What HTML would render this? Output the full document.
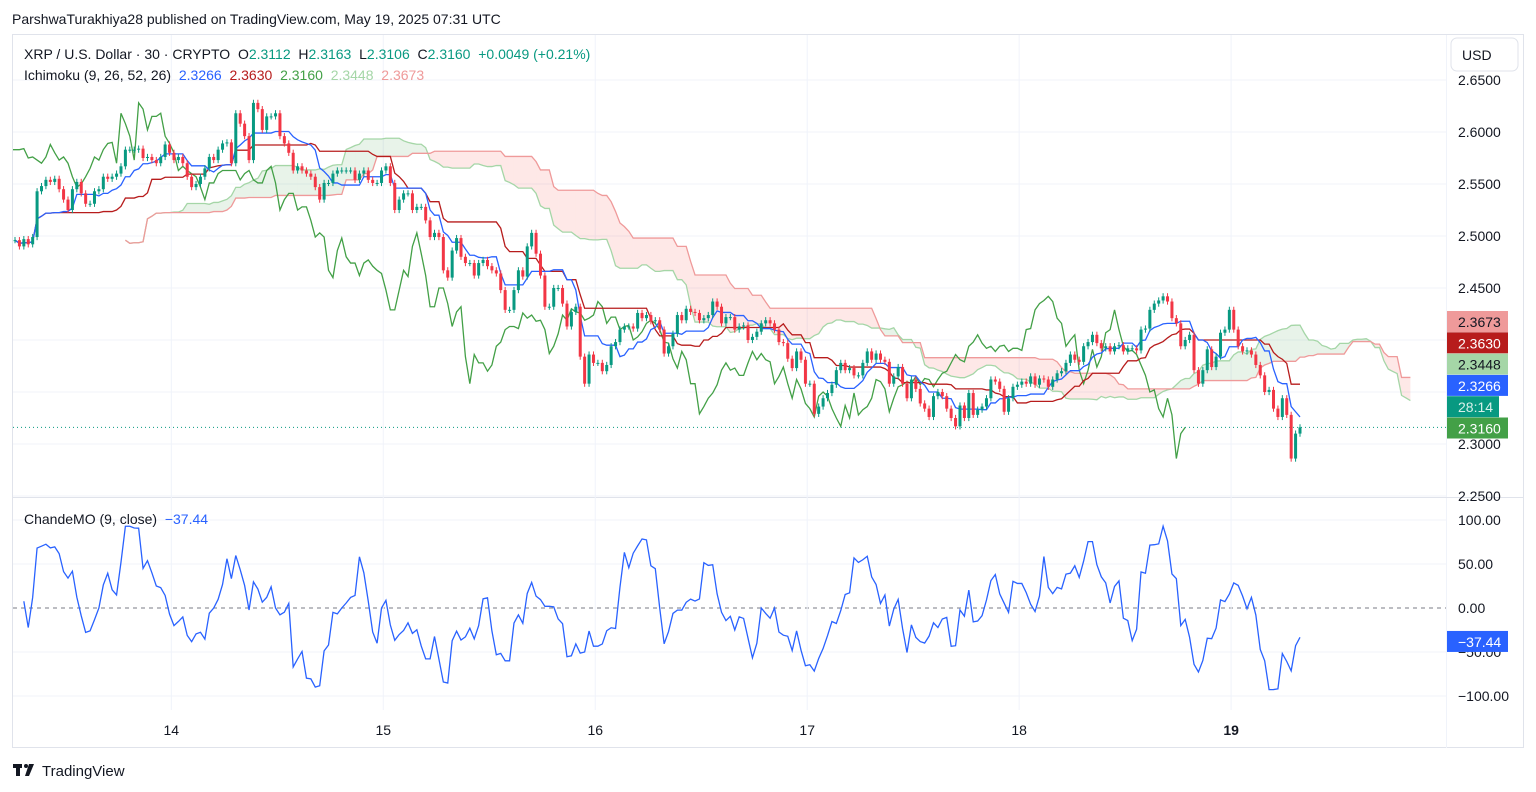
<!DOCTYPE html>
<html><head><meta charset="utf-8"><style>
html,body{margin:0;padding:0;background:#fff;width:1536px;height:792px;overflow:hidden}
svg{display:block;font-family:"Liberation Sans",sans-serif}
text{white-space:pre}
</style></head><body>
<svg id="c" width="1536" height="792" xml:space="preserve">
<defs><clipPath id="pc"><rect x="13" y="35" width="1434" height="462"/></clipPath>
<clipPath id="cc"><rect x="13" y="498" width="1434" height="212"/></clipPath></defs>
<text x="12" y="24" font-size="14" fill="#131722">ParshwaTurakhiya28 published on TradingView.com, May 19, 2025 07:31 UTC</text>
<rect x="12.5" y="34.5" width="1511" height="713" fill="none" stroke="#e0e3eb"/>
<line x1="1446.5" y1="35" x2="1446.5" y2="748" stroke="#f0f3fa"/>
<line x1="13" y1="497.5" x2="1523" y2="497.5" stroke="#e0e3eb"/>
<g id="grid"></g>
<g id="cloud" clip-path="url(#pc)"></g>
<g id="lines" clip-path="url(#pc)"></g>
<g id="candles" clip-path="url(#pc)"></g>
<g id="cmo" clip-path="url(#cc)"></g>
<g id="axis"></g>
<text x="24" y="59" font-size="14"><tspan fill="#131722">XRP / U.S. Dollar · 30 · CRYPTO  O</tspan><tspan fill="#089981">2.3112</tspan><tspan fill="#131722">  H</tspan><tspan fill="#089981">2.3163</tspan><tspan fill="#131722">  L</tspan><tspan fill="#089981">2.3106</tspan><tspan fill="#131722">  C</tspan><tspan fill="#089981">2.3160  +0.0049 (+0.21%)</tspan></text>
<text x="24" y="80" font-size="14"><tspan fill="#131722">Ichimoku (9, 26, 52, 26)  </tspan><tspan fill="#2962ff">2.3266  </tspan><tspan fill="#b71c1c">2.3630  </tspan><tspan fill="#43a047">2.3160  </tspan><tspan fill="#a5d6a7">2.3448  </tspan><tspan fill="#ef9a9a">2.3673</tspan></text>
<text x="24" y="524" font-size="14"><tspan fill="#131722">ChandeMO (9, close)  </tspan><tspan fill="#2962ff">−37.44</tspan></text>
<g id="usd">
<rect x="1451" y="38" width="67" height="33" rx="6" fill="#fff" stroke="#e0e3eb"/>
<text x="1462" y="60" font-size="14" fill="#131722">USD</text></g>
<g><rect x="13" y="764" width="9" height="4" fill="#131722"/><rect x="16" y="764" width="4" height="12" fill="#131722"/><circle cx="26" cy="766" r="2" fill="#131722"/><polygon points="29,764 34,764 29,776 25,776" fill="#131722"/><text x="42" y="776" font-size="15" fill="#131722">TradingView</text></g>
</svg>
<script>
const closes=[2.496,2.490,2.497,2.492,2.499,2.543,2.548,2.554,2.552,2.555,2.545,2.535,2.525,2.545,2.552,2.541,2.531,2.531,2.543,2.545,2.557,2.555,2.557,2.560,2.567,2.583,2.583,2.583,2.584,2.575,2.576,2.573,2.570,2.576,2.588,2.580,2.573,2.576,2.570,2.557,2.547,2.550,2.557,2.565,2.576,2.573,2.583,2.589,2.590,2.570,2.618,2.608,2.596,2.573,2.628,2.622,2.602,2.615,2.615,2.618,2.596,2.589,2.580,2.563,2.567,2.563,2.560,2.557,2.547,2.535,2.551,2.551,2.560,2.563,2.563,2.563,2.563,2.554,2.560,2.563,2.554,2.551,2.551,2.563,2.567,2.551,2.525,2.535,2.541,2.541,2.525,2.528,2.528,2.515,2.499,2.503,2.499,2.467,2.460,
2.486,2.498,2.480,2.474,2.474,2.462,2.474,2.477,2.471,2.467,2.464,2.448,2.429,2.429,2.448,2.467,2.461,2.490,2.503,2.483,2.462,2.432,2.432,2.450,2.450,2.435,2.413,2.427,2.432,2.384,2.358,2.386,2.378,2.378,2.370,2.376,2.394,2.398,2.410,2.413,2.413,2.411,2.426,2.421,2.424,2.418,2.419,2.410,2.387,2.394,2.406,2.424,2.419,2.430,2.427,2.426,2.419,2.421,2.424,2.437,2.432,2.416,2.422,2.422,2.410,2.413,2.414,2.400,2.403,2.408,2.416,2.419,2.416,2.410,2.398,2.397,2.382,2.373,2.389,2.381,2.358,2.358,2.329,2.336,2.344,2.349,2.357,2.371,2.378,2.371,2.373,2.366,2.366,2.378,2.389,2.381,
2.387,2.381,2.379,2.358,2.365,2.374,2.358,2.344,2.362,2.353,2.339,2.334,2.326,2.346,2.350,2.346,2.334,2.325,2.317,2.337,2.325,2.349,2.328,2.333,2.336,2.344,2.362,2.360,2.353,2.331,2.344,2.355,2.357,2.360,2.358,2.365,2.357,2.363,2.362,2.355,2.362,2.368,2.370,2.378,2.386,2.381,2.379,2.394,2.398,2.405,2.397,2.392,2.394,2.389,2.394,2.395,2.389,2.392,2.392,2.390,2.410,2.411,2.429,2.435,2.438,2.442,2.437,2.421,2.416,2.394,2.400,2.405,2.371,2.358,2.371,2.391,2.374,2.384,2.407,2.410,2.429,2.410,2.394,2.389,2.390,2.386,2.376,2.366,2.350,2.352,2.334,2.326,2.344,2.328,2.286,2.310,2.316];
const priceTicks=[2.65,2.60,2.55,2.50,2.45,2.40,2.35,2.30,2.25];
const priceTickLabels=["2.6500","2.6000","2.5500","2.5000","2.4500","","","2.3000","2.2500"];
const cmoTicks=[100,50,0,-50,-100];
const cmoTickLabels=["100.00","50.00","0.00","−50.00","−100.00"];
const dayLabels=["14","15","16","17","18","19"];
const dayStartIndex=[35.4,83.4,131.4,179.4,227.4,275.4];
const lastLabels=["2.3673","2.3630","2.3448","2.3266","28:14","2.3160"];
const lastLabelColors=["#ef9a9a","#b71c1c","#a5d6a7","#2962ff","#089981","#43a047"];
const lastLabelText=["#131722","#fff","#131722","#fff","#d8f0ea","#fff"];
const cmoLast=-37.44;

const NS="http://www.w3.org/2000/svg";
const n=closes.length, step=(1300-15)/(n-1);
const X=i=>15+i*step;
const Y=v=>80+(2.65-v)*1040;
const CY=v=>608-v*0.88;
function mk(tag,attrs,parent){const e=document.createElementNS(NS,tag);for(const k in attrs)e.setAttribute(k,attrs[k]);document.getElementById(parent).appendChild(e);return e;}

priceTicks.forEach((p,k)=>{const l=mk('line',{x1:13,x2:1446,y1:Y(p),y2:Y(p),stroke:'#f0f3fa'},'grid');


if(priceTickLabels[k]){const t=mk('text',{x:1458,y:Y(p)+5,'font-size':14,fill:'#131722'},'axis');t.textContent=priceTickLabels[k];

}});
cmoTicks.forEach((v,k)=>{const l=mk('line',{x1:13,x2:1446,y1:CY(v),y2:CY(v),stroke:v===0?'#787b86':'#f0f3fa','stroke-dasharray':v===0?'4 4':'none'},'grid');


const t=mk('text',{x:1458,y:CY(v)+5,'font-size':14,fill:'#131722'},'axis');t.textContent=cmoTickLabels[k];

});
dayStartIndex.forEach((di,k)=>{const x=X(di);const l=mk('line',{x1:x,x2:x,y1:35,y2:710,stroke:'#f0f3fa'},'grid');


const t=mk('text',{x:x,y:735,'font-size':14,fill:'#131722','text-anchor':'middle','font-weight':k===5?'bold':'normal'},'axis');t.textContent=dayLabels[k];

});
// keep USD button on top of axis labels
document.getElementById('c').appendChild(document.getElementById('usd'));

const opens=closes.map((c,i)=>i?closes[i-1]:c);
const highs=closes.map((c,i)=>Math.max(c,opens[i])+0.003);
const lows=closes.map((c,i)=>Math.min(c,opens[i])-0.003);
function hl(i,p){let h=-1e9,l=1e9;for(let j=Math.max(0,i-p+1);j<=i;j++){h=Math.max(h,highs[j]);l=Math.min(l,lows[j]);}return (h+l)/2;}
const tenkan=closes.map((_,i)=>hl(i,9)), kijun=closes.map((_,i)=>hl(i,26));
const spanA=closes.map((_,i)=>(tenkan[i]+kijun[i])/2), spanB=closes.map((_,i)=>hl(i,52));

for(let i=0;i<n-1;i++){
  const x1=X(i+25),x2=X(i+26);
  const a1=spanA[i],a2=spanA[i+1],b1=spanB[i],b2=spanB[i+1];
  const up=(a1+a2)>=(b1+b2);
  const p=mk('polygon',{points:`${x1},${Y(a1)} ${x2},${Y(a2)} ${x2},${Y(b2)} ${x1},${Y(b1)}`,fill:up?'rgba(67,160,71,0.12)':'rgba(244,67,54,0.12)'},'cloud');
  
  
}
function poly(vals,off,color,name,grp,yf){const pts=vals.map((v,i)=>`${X(i+off)},${yf(v)}`).join(' ');
const e=mk('polyline',{points:pts,fill:'none',stroke:color,'stroke-width':1.3},grp);

}
poly(spanA,25,'#a5d6a7','senkou-span-a','lines',Y);
poly(spanB,25,'#ef9a9a','senkou-span-b','lines',Y);
poly(closes,-26,'#43a047','chikou-span','lines',Y);
poly(kijun,0,'#b71c1c','kijun-sen','lines',Y);
poly(tenkan,0,'#2962ff','tenkan-sen','lines',Y);

closes.forEach((c,i)=>{const o=opens[i],up=c>=o,col=up?'#089981':'#f23645',x=X(i);
const w=mk('line',{x1:x,x2:x,y1:Y(highs[i]),y2:Y(lows[i]),stroke:col,'stroke-width':1},'candles');


const top=Y(Math.max(o,c)),h=Math.max(1,Y(Math.min(o,c))-top);
const b=mk('rect',{x:x-1.5,y:top,width:3,height:h,fill:col},'candles');

});
const lp=mk('line',{x1:13,x2:1446,y1:Y(closes[n-1]),y2:Y(closes[n-1]),stroke:'#089981','stroke-dasharray':'1 3'},'lines');



const cmo=closes.map((c,i)=>{if(i<2)return null;let su=0,sd=0;for(let j=Math.max(1,i-8);j<=i;j++){const d=closes[j]-closes[j-1];if(d>0)su+=d;else sd-=d;}return su+sd?100*(su-sd)/(su+sd):0;});
const cpts=cmo.map((v,i)=>v===null?null:`${X(i)},${CY(v)}`).filter(Boolean).join(' ');
const cl=mk('polyline',{points:cpts,fill:'none',stroke:'#2962ff','stroke-width':1.3},'cmo');



lastLabels.forEach((t,k)=>{const y=311+k*21.3;
const r=mk('rect',{x:1447,y:y,width:k===4?52:61,height:21,fill:lastLabelColors[k]},'axis');


const tx=mk('text',{x:1458,y:y+16,'font-size':14,fill:lastLabelText[k]},'axis');tx.textContent=t;

});
const cr=mk('rect',{x:1447,y:CY(cmoLast)-11+1,width:61,height:21,fill:'#2962ff'},'axis');


const ct=mk('text',{x:1458,y:CY(cmoLast)+6,'font-size':14,fill:'#fff'},'axis');ct.textContent='−37.44';


</script>
</body></html>
